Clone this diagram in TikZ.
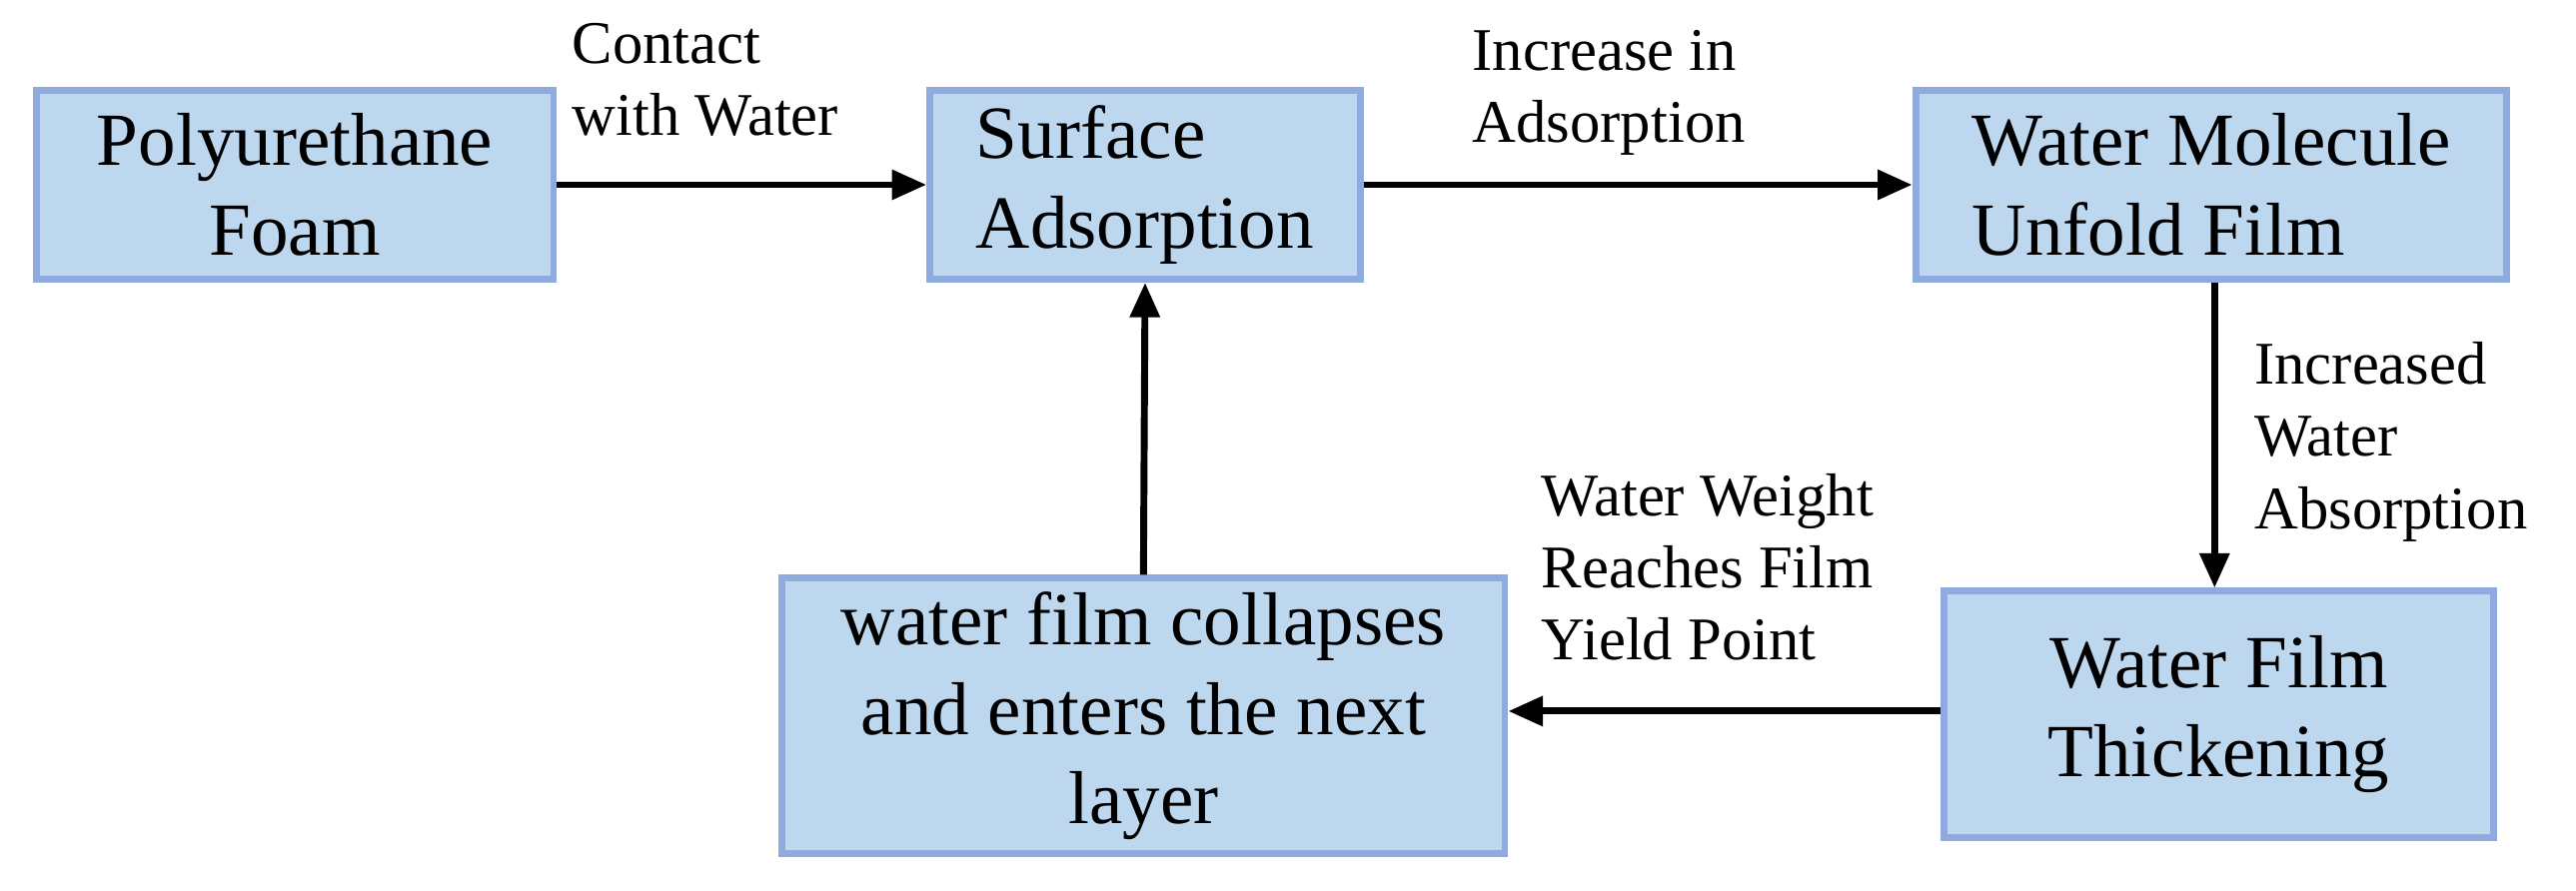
\documentclass[tikz,border=0pt]{standalone}
\usepackage{fontspec}
\setmainfont{Liberation Serif}
\usetikzlibrary{arrows.meta}
\definecolor{boxfill}{HTML}{BDD7EE}
\definecolor{boxline}{HTML}{8FAADC}
\begin{document}
\begin{tikzpicture}[x=0.02cm,y=-0.02cm,
 box/.style={draw=boxline,fill=boxfill,line width=2.4pt,font=\fontsize{26}{31}\selectfont,inner sep=0pt},
 lab/.style={font=\fontsize{21}{25}\selectfont,align=left,anchor=north west,inner sep=0pt},
 arr/.style={line width=2.4pt,-{Triangle[length=12pt,width=10pt]}}]
\useasboundingbox (0,0) rectangle (1568,542);
\node[box,minimum width=6.3cm,minimum height=2.3cm,align=center] (a) at (179.5,112.5) {Polyurethane\\Foam};
\node[box,minimum width=5.24cm,minimum height=2.3cm,align=left] (b) at (697,112.5) {Surface\\Adsorption};
\node[box,minimum width=7.2cm,minimum height=2.3cm,align=left] (c) at (1346,112.5) {Water Molecule\\Unfold Film};
\node[box,minimum width=6.7cm,minimum height=3.0cm,align=center] (d) at (1350.5,435) {Water Film\\Thickening};
\node[box,minimum width=8.8cm,minimum height=3.36cm,align=center] (e) at (696,436) {water film collapses\\and enters the next\\layer};
\draw[arr] (a.east) -- (b.west);
\draw[arr] (b.east) -- (c.west);
\draw[arr] (c.south -| 1348,0) -- (d.north -| 1348,0);
\draw[arr] (d.west |- 0,433) -- (e.east |- 0,433);
\draw[arr] (e.north) -- (b.south);
\node[lab] (l1) at (348,14) {Contact\\with Water};
\node[lab] (l2) at (896,18) {Increase in\\Adsorption};
\node[lab] (l3) at (1372,208) {Increased\\Water\\Absorption};
\node[lab] (l4) at (938,288) {Water Weight\\Reaches Film\\Yield Point};
\end{tikzpicture}
\end{document}
